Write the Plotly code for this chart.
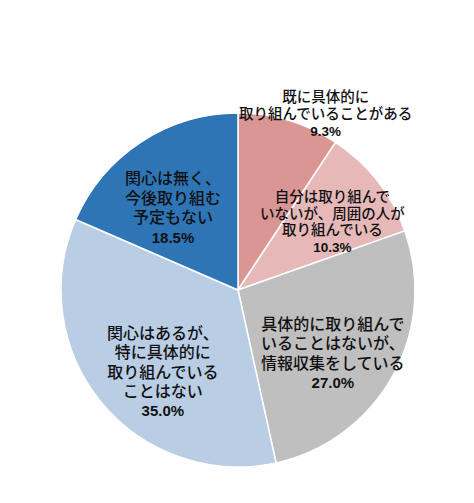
import plotly.graph_objects as go

# ---- data ----
categories = [
    "既に具体的に\n取り組んでいることがある",
    "自分は取り組んで\nいないが、周囲の人が\n取り組んでいる",
    "具体的に取り組んで\nいることはないが、\n情報収集をしている",
    "関心はあるが、\n特に具体的に\n取り組んでいる\nことはない",
    "関心は無く、\n今後取り組む\n予定もない",
]
values = [9.3, 10.3, 27.0, 35.0, 18.5]

# ---- style ----
colors = ["#D99694", "#E6B9B8", "#BFBFBF", "#B9CDE5", "#2E75B6"]
W, H = 474, 503
CX, CY, R = 238, 290, 177
# label centre (px), glyph font size, line pitch (px)
label_style = [
    (325, 112, 14.5, 17.0),
    (332, 220, 14.5, 16.7),
    (333, 351, 16, 19.3),
    (163, 369, 16, 19.3),
    (173, 205, 16, 19.5),
]

fig = go.Figure(go.Pie(
    labels=[c.replace("\n", "") for c in categories],
    values=values,
    sort=False,
    direction="clockwise",
    rotation=0,
    marker=dict(colors=colors, line=dict(color="white", width=1.5)),
    textinfo="none",
    hoverinfo="label+percent",
    showlegend=False,
    domain=dict(x=[(CX - R) / W, (CX + R) / W], y=[1 - (CY + R) / H, 1 - (CY - R) / H]),
))

annotations = []
for cat, val, (lx, ly, fs, pitch) in zip(categories, values, label_style):
    parts = [
        f'<span style="font-size:{fs}px">{line}</span>' for line in cat.split("\n")
    ]
    parts.append(
        f'<span style="font-family:Liberation Sans, Arial;font-size:{fs - 1}px;'
        f'font-weight:bold">{val:.1f}%</span>'
    )
    annotations.append(dict(
        x=lx / W, y=1 - ly / H, xref="paper", yref="paper",
        xanchor="center", yanchor="middle", showarrow=False,
        align="center",
        text="<br>".join(parts),
        font=dict(family="Noto Sans CJK JP", size=pitch / 1.3,
                  color="#111111", weight=500),
    ))

fig.update_layout(
    width=W, height=H,
    margin=dict(l=0, r=0, t=0, b=0),
    paper_bgcolor="white", plot_bgcolor="white",
    annotations=annotations,
)

fig.write_html("out.html", config={"displayModeBar": False},
               post_script="document.body.style.margin='0';")
